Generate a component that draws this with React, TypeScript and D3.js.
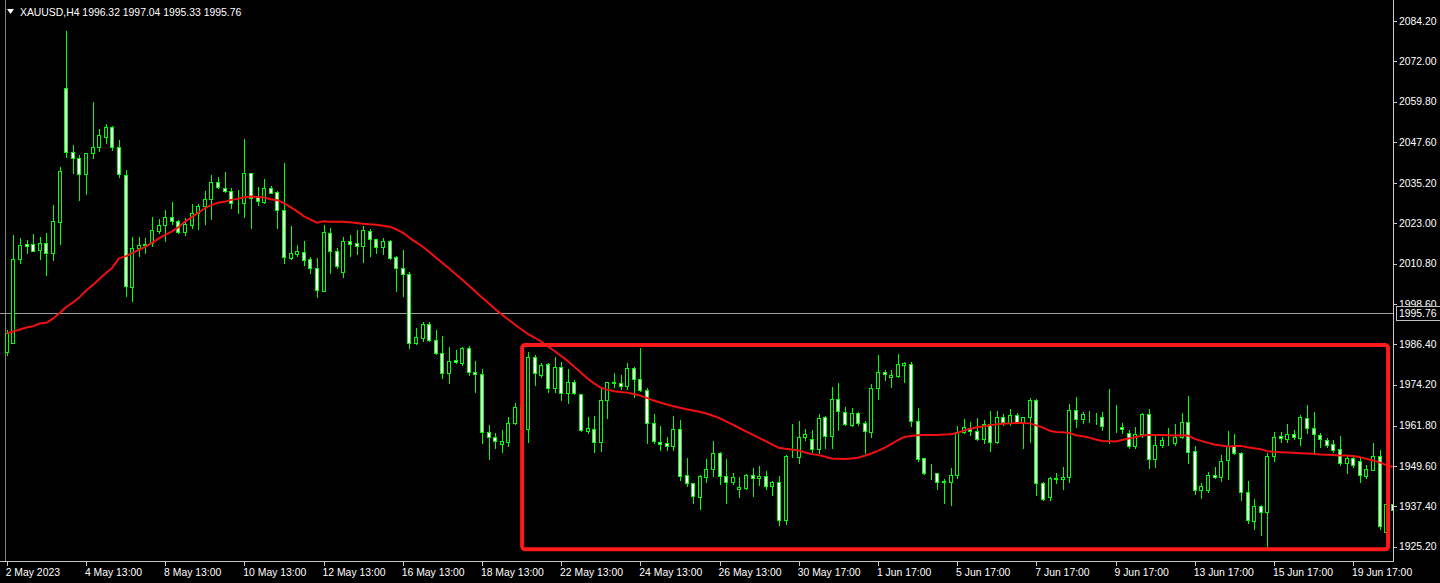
import React from "react";
import * as d3 from "d3";

// ---------- DATA ----------
const symbolTitle = "XAUUSD,H4";
const headerValues = ["1996.32", "1997.04", "1995.33", "1995.76"];
const bidPrice = 1995.76;

const opens = [
  1984.1, 1986.9, 2012.3, 2016.9, 2016.7, 2014.9, 2017.1, 2013.9, 2023.5, 2064.0,
  2044.5, 2042.9, 2037.8, 2044.2, 2046.2, 2049.2, 2052.1, 2046.0, 2037.6, 2003.8,
  2015.5, 2016.6, 2017.0, 2020.7, 2022.5, 2024.8, 2023.8, 2020.5, 2022.6, 2026.2,
  2028.2, 2030.3, 2035.6, 2033.8, 2032.8, 2029.1, 2029.1, 2038.1, 2030.9, 2029.6,
  2033.6, 2032.4, 2027.0, 2012.6, 2013.7, 2014.2, 2012.1, 2009.6, 2002.6, 2020.0,
  2014.6, 2008.4, 2017.7, 2017.0, 2016.2, 2020.8, 2018.2, 2015.8, 2017.7, 2012.9,
  2009.6, 2007.7, 1986.7, 1988.2, 1992.7, 1987.7, 1983.9, 1977.6, 1981.7, 1980.7,
  1985.2, 1978.1, 1977.4, 1959.8, 1958.5, 1956.2, 1957.0, 1962.5, 1967.5, 1960.8,
  1982.7, 1977.2, 1980.4, 1973.1, 1979.6, 1971.6, 1974.9, 1971.3, 1960.3, 1960.8,
  1957.0, 1969.6, 1974.8, 1974.6, 1973.8, 1979.3, 1975.8, 1972.6, 1962.5, 1957.0,
  1956.5, 1955.7, 1960.8, 1946.9, 1944.4, 1940.1, 1946.4, 1948.6, 1953.4, 1946.7,
  1944.8, 1942.6, 1943.0, 1946.9, 1945.9, 1946.6, 1943.6, 1944.8, 1933.3, 1952.6,
  1952.4, 1958.5, 1957.7, 1954.9, 1964.5, 1958.7, 1969.9, 1966.0, 1962.0, 1965.5,
  1962.5, 1960.0, 1973.1, 1978.1, 1976.4, 1976.9, 1980.2, 1980.4, 1963.3, 1951.9,
  1947.4, 1947.4, 1944.8, 1944.8, 1946.9, 1960.0, 1961.0, 1960.3, 1957.8, 1962.2,
  1957.0, 1964.3, 1962.7, 1965.0, 1963.0, 1964.3, 1969.6, 1944.4, 1940.1, 1945.8,
  1945.8, 1946.4, 1966.5, 1963.7, 1964.1, 1964.6, 1964.5, 1961.7, 1961.6, 1961.5,
  1959.5, 1955.7, 1959.2, 1965.2, 1951.7, 1955.9, 1956.9, 1956.6, 1958.3, 1963.0,
  1954.1, 1942.5, 1942.5, 1946.9, 1946.2, 1951.4, 1955.7, 1953.4, 1941.8, 1933.1,
  1937.6, 1935.6, 1952.6, 1958.7, 1957.7, 1959.3, 1958.0, 1964.0, 1961.0, 1959.0,
  1957.5, 1956.2, 1954.6, 1950.4, 1951.9, 1951.1, 1946.6, 1948.4, 1952.6, 1929.7,
  1938.0,
];

const highs = [
  1990.7, 2019.5, 2018.6, 2018.0, 2019.7, 2018.8, 2020.2, 2028.5, 2040.1, 2081.2,
  2046.7, 2043.7, 2044.4, 2059.7, 2051.4, 2053.1, 2052.3, 2048.2, 2039.1, 2018.8,
  2018.8, 2018.5, 2024.8, 2024.3, 2027.0, 2029.4, 2023.9, 2024.7, 2028.8, 2028.8,
  2032.9, 2037.6, 2037.1, 2038.4, 2033.6, 2033.1, 2048.4, 2038.3, 2034.1, 2036.3,
  2034.3, 2032.8, 2041.3, 2022.2, 2016.4, 2017.7, 2012.9, 2012.6, 2022.5, 2021.7,
  2015.5, 2018.8, 2019.5, 2021.0, 2022.2, 2021.3, 2018.4, 2018.5, 2018.0, 2013.1,
  2014.9, 2008.4, 1991.2, 1993.2, 1993.2, 1990.7, 1988.9, 1985.5, 1984.7, 1985.5,
  1985.9, 1981.4, 1978.9, 1962.0, 1959.5, 1960.5, 1964.3, 1968.7, 1968.1, 1984.2,
  1983.2, 1980.7, 1980.7, 1982.7, 1981.2, 1978.9, 1975.6, 1971.4, 1964.5, 1964.7,
  1973.4, 1975.1, 1977.6, 1977.1, 1980.7, 1979.6, 1985.2, 1973.1, 1965.3, 1961.7,
  1958.5, 1964.7, 1963.5, 1952.0, 1944.5, 1946.9, 1951.7, 1957.2, 1953.9, 1951.7,
  1947.4, 1946.2, 1947.1, 1948.9, 1949.6, 1948.2, 1945.0, 1946.6, 1953.0, 1962.2,
  1963.3, 1960.7, 1960.5, 1965.2, 1964.7, 1973.6, 1974.6, 1967.5, 1967.2, 1966.0,
  1963.2, 1974.3, 1983.2, 1978.6, 1978.6, 1983.4, 1981.2, 1981.0, 1967.2, 1952.0,
  1950.2, 1947.5, 1945.6, 1948.9, 1961.8, 1963.7, 1963.0, 1964.2, 1963.5, 1966.3,
  1966.3, 1965.2, 1966.7, 1965.5, 1964.5, 1970.1, 1969.8, 1944.8, 1946.4, 1947.6,
  1949.2, 1968.3, 1970.4, 1965.9, 1966.3, 1965.5, 1966.0, 1972.8, 1968.1, 1962.5,
  1960.5, 1961.3, 1965.5, 1966.8, 1958.7, 1958.5, 1961.0, 1962.3, 1965.5, 1970.9,
  1955.6, 1944.4, 1947.9, 1949.4, 1952.9, 1960.2, 1959.2, 1953.9, 1945.2, 1939.5,
  1937.8, 1953.4, 1960.0, 1960.0, 1962.3, 1960.5, 1965.0, 1968.1, 1966.0, 1959.5,
  1958.0, 1957.5, 1958.7, 1952.9, 1952.9, 1952.4, 1949.9, 1956.6, 1954.4, 1938.2,
  1938.3,
];

const lows = [
  1983.2, 1986.8, 2011.1, 2014.0, 2014.5, 2012.3, 2007.3, 2011.9, 2016.7, 2043.2,
  2038.3, 2030.1, 2031.9, 2042.7, 2045.0, 2047.4, 2045.2, 2037.1, 2001.0, 1999.5,
  2013.1, 2013.9, 2016.2, 2020.0, 2017.8, 2022.8, 2020.0, 2019.5, 2021.7, 2021.3,
  2022.7, 2024.2, 2033.6, 2032.6, 2027.7, 2026.2, 2025.0, 2021.5, 2028.6, 2029.2,
  2032.1, 2021.5, 2010.9, 2012.1, 2013.1, 2010.4, 2008.1, 2000.8, 2002.5, 2008.1,
  2009.6, 2006.9, 2013.1, 2013.7, 2011.4, 2013.2, 2014.1, 2013.7, 2012.1, 2002.5,
  2001.0, 1985.2, 1986.5, 1987.5, 1987.5, 1983.5, 1976.3, 1974.8, 1980.9, 1980.2,
  1977.1, 1972.1, 1956.5, 1951.7, 1955.1, 1953.7, 1955.7, 1962.2, 1960.5, 1957.0,
  1974.1, 1976.6, 1972.1, 1972.1, 1969.6, 1968.7, 1971.3, 1960.3, 1959.5, 1953.9,
  1954.2, 1964.2, 1973.6, 1972.8, 1972.8, 1970.6, 1972.4, 1956.5, 1956.5, 1954.4,
  1954.4, 1954.4, 1945.4, 1943.5, 1938.5, 1936.6, 1944.8, 1946.7, 1944.1, 1938.5,
  1944.2, 1940.1, 1942.8, 1940.5, 1943.8, 1942.6, 1940.8, 1931.8, 1932.1, 1952.2,
  1950.6, 1957.5, 1953.9, 1953.4, 1955.0, 1955.0, 1960.5, 1962.1, 1961.7, 1962.0,
  1953.4, 1958.5, 1969.8, 1975.6, 1973.6, 1976.6, 1974.9, 1961.8, 1951.1, 1947.1,
  1945.6, 1942.8, 1938.3, 1937.8, 1945.9, 1959.5, 1959.0, 1957.6, 1956.5, 1954.2,
  1956.5, 1962.0, 1962.0, 1962.5, 1955.0, 1957.0, 1940.8, 1939.3, 1939.3, 1944.4,
  1942.6, 1944.8, 1961.5, 1962.7, 1963.0, 1962.3, 1960.5, 1956.5, 1960.0, 1959.7,
  1955.1, 1955.0, 1958.5, 1949.1, 1949.2, 1955.4, 1955.9, 1955.9, 1958.0, 1950.6,
  1941.0, 1939.8, 1941.8, 1945.9, 1945.2, 1945.6, 1953.2, 1939.3, 1932.4, 1930.7,
  1928.7, 1924.7, 1951.2, 1957.0, 1957.0, 1957.7, 1955.9, 1959.5, 1953.2, 1955.3,
  1955.4, 1953.9, 1949.9, 1947.4, 1949.4, 1944.8, 1945.9, 1948.3, 1930.7, 1929.2,
  1935.3,
];

const closes = [
  1989.8, 2012.3, 2016.4, 2016.0, 2014.7, 2017.1, 2013.9, 2023.6, 2038.8, 2044.5,
  2042.7, 2037.8, 2044.2, 2046.2, 2049.7, 2052.1, 2046.0, 2037.8, 2004.1, 2015.5,
  2016.4, 2016.7, 2021.0, 2022.6, 2024.8, 2023.8, 2020.5, 2022.8, 2026.0, 2028.3,
  2030.4, 2035.6, 2033.9, 2032.8, 2029.1, 2029.2, 2038.1, 2030.8, 2029.8, 2033.6,
  2032.3, 2027.0, 2012.7, 2013.9, 2014.5, 2011.9, 2009.6, 2002.8, 2020.3, 2014.6,
  2010.2, 2017.7, 2016.7, 2016.2, 2021.0, 2018.2, 2015.8, 2017.7, 2012.6, 2009.6,
  2007.6, 1986.7, 1988.5, 1992.7, 1987.7, 1983.7, 1977.6, 1981.4, 1981.1, 1985.2,
  1978.1, 1977.4, 1959.8, 1958.3, 1957.2, 1957.2, 1962.5, 1967.5, 1960.8, 1982.7,
  1977.6, 1980.1, 1973.1, 1979.6, 1971.6, 1974.9, 1971.6, 1960.5, 1961.0, 1957.0,
  1969.6, 1974.9, 1974.9, 1973.8, 1979.3, 1975.8, 1972.6, 1962.5, 1957.2, 1956.3,
  1955.7, 1960.8, 1946.6, 1944.6, 1940.5, 1946.7, 1948.6, 1953.6, 1946.7, 1944.8,
  1946.2, 1943.3, 1946.9, 1945.9, 1946.7, 1943.6, 1944.8, 1933.3, 1952.7, 1952.7,
  1958.5, 1959.2, 1954.7, 1964.2, 1958.7, 1969.9, 1966.2, 1962.3, 1965.5, 1962.5,
  1960.2, 1973.1, 1978.0, 1977.3, 1977.1, 1980.5, 1980.7, 1963.3, 1951.7, 1947.6,
  1947.5, 1944.8, 1945.0, 1946.9, 1960.0, 1961.5, 1960.3, 1957.8, 1962.2, 1957.0,
  1964.3, 1963.0, 1964.9, 1963.0, 1964.3, 1969.6, 1944.4, 1939.6, 1945.9, 1946.0,
  1946.4, 1966.5, 1963.8, 1965.2, 1964.2, 1964.7, 1961.8, 1961.8, 1961.7, 1960.7,
  1955.7, 1959.2, 1965.2, 1951.7, 1955.9, 1957.5, 1957.0, 1958.3, 1963.0, 1953.9,
  1942.3, 1943.6, 1946.9, 1946.2, 1951.1, 1955.7, 1953.4, 1941.6, 1933.3, 1937.6,
  1935.6, 1952.7, 1958.5, 1958.0, 1959.3, 1958.3, 1964.5, 1961.0, 1959.2, 1957.8,
  1955.9, 1954.4, 1950.4, 1951.9, 1949.9, 1946.9, 1948.7, 1952.6, 1931.4, 1938.0,
  1936.3,
];

// moving average (red line) for every bar
const movingAverage = [
  1989.7, 1990.3, 1990.9, 1991.5, 1991.9, 1992.7, 1992.9, 1994.2, 1995.8, 1997.7,
  1999.0, 2000.6, 2002.6, 2004.3, 2006.1, 2007.9, 2009.6, 2012.4, 2013.0, 2014.0,
  2015.0, 2015.9, 2017.1, 2018.4, 2019.5, 2020.5, 2021.8, 2023.5, 2024.8, 2026.2,
  2027.5, 2028.5, 2029.2, 2029.5, 2030.1, 2030.4, 2030.9, 2031.1, 2031.0, 2030.8,
  2030.3, 2030.0, 2029.1, 2027.9, 2026.6, 2025.2, 2024.2, 2023.2, 2023.6, 2023.5,
  2023.5, 2023.5, 2023.3, 2023.1, 2022.9, 2022.7, 2022.6, 2022.3, 2022.0, 2021.2,
  2020.2, 2018.7, 2017.3, 2016.0, 2014.4, 2012.7, 2011.1, 2009.4, 2007.7, 2006.0,
  2004.2, 2002.4, 2000.6, 1998.9, 1997.1, 1995.4, 1993.9, 1992.4, 1990.9, 1989.5,
  1988.4, 1987.2, 1985.8, 1984.4, 1982.9, 1981.4, 1979.6, 1977.9, 1976.1, 1974.6,
  1973.3, 1972.7, 1972.2, 1972.0, 1971.8, 1971.4, 1970.9, 1970.2, 1969.4, 1968.8,
  1968.2, 1967.7, 1967.2, 1966.8, 1966.4, 1966.0, 1965.5, 1964.8, 1964.1, 1963.1,
  1962.1, 1961.1, 1960.1, 1959.1, 1958.1, 1957.1, 1956.1, 1955.1, 1954.8, 1954.6,
  1954.3, 1953.7, 1953.2, 1952.9, 1952.4, 1951.9, 1951.8, 1951.7, 1951.9, 1952.1,
  1952.7, 1953.4, 1954.2, 1955.1, 1956.2, 1957.4, 1958.4, 1958.7, 1958.9, 1959.0,
  1959.0, 1959.0, 1959.1, 1959.2, 1959.6, 1960.3, 1960.9, 1961.3, 1961.6, 1961.9,
  1962.2, 1962.4, 1962.5, 1962.6, 1962.6, 1962.5, 1961.9, 1961.2, 1960.3, 1959.9,
  1959.8, 1959.6, 1958.9, 1958.6, 1958.2, 1957.6, 1957.2, 1957.1, 1957.0, 1957.5,
  1957.9, 1958.3, 1958.8, 1959.0, 1959.0, 1959.0, 1958.9, 1958.8, 1958.9, 1958.8,
  1957.8, 1957.2, 1956.6, 1956.1, 1955.8, 1955.5, 1955.6, 1955.7, 1955.3, 1955.0,
  1954.7, 1954.1, 1953.9, 1953.8, 1953.7, 1953.6, 1953.5, 1953.4, 1953.3, 1953.1,
  1953.0, 1952.9, 1952.8, 1952.8, 1952.6, 1952.3, 1951.8, 1951.3, 1950.7, 1949.9,
  1949.3,
];

const priceTicks = [
  "2084.20", "2072.00", "2059.80", "2047.60", "2035.20", "2023.00", "2010.80",
  "1998.60", "1986.40", "1974.20", "1961.80", "1949.60", "1937.40", "1925.20",
];

const timeLabels = [
  "2 May 2023", "4 May 13:00", "8 May 13:00", "10 May 13:00", "12 May 13:00",
  "16 May 13:00", "18 May 13:00", "22 May 13:00", "24 May 13:00", "26 May 13:00",
  "30 May 17:00", "1 Jun 17:00", "5 Jun 17:00", "7 Jun 17:00", "9 Jun 17:00",
  "13 Jun 17:00", "15 Jun 17:00", "19 Jun 17:00",
];
const barsPerTimeLabel = 12;

// highlighted range rectangle (bar index from / to, price top / bottom)
const rangeBox = { fromBar: 78.1, toBar: 209.3, top: 1986.2, bottom: 1924.4 };

// ---------- CHART ----------
const W = 1440;
const H = 583;
const AXIS_X = 1393;
const AXIS_Y = 561;
const FONT = "'Liberation Sans', Arial, sans-serif";
const GREEN = "#00ff00";
const FG = "#ffffff";

export default function App() {
  const n = opens.length;
  const x = d3.scaleLinear().domain([0, n - 1]).range([6.7, 1392.7]);
  const y = d3.scaleLinear().domain([1925.2, 2084.2]).range([546.7, 21]);

  const maLine = d3
    .line<number>()
    .x((_, i) => x(i))
    .y((d) => y(d))
    .curve(d3.curveLinear)(movingAverage) as string;

  const bidY = Math.round(y(bidPrice)) + 0.5;

  return (
    <div style={{ position: "absolute", left: 0, top: 0, width: W, height: H, background: "#000" }}>
      <svg width={W} height={H} style={{ display: "block", background: "#000" }}>
        <defs>
          <clipPath id="plot">
            <rect x={0} y={0} width={AXIS_X} height={AXIS_Y} />
          </clipPath>
        </defs>
        <rect x={0} y={0} width={W} height={H} fill="#000" />

        <g clipPath="url(#plot)">
          {/* left border line */}
          <line x1={5.5} x2={5.5} y1={0} y2={AXIS_Y} stroke="#808080" strokeWidth={1} />
          {/* bid line */}
          <line x1={0} x2={AXIS_X} y1={bidY} y2={bidY} stroke="#a0a0a0" strokeWidth={1} />

          {/* candles */}
          <g shapeRendering="crispEdges">
            {opens.map((o, i) => {
              const c = closes[i];
              const cx = Math.round(x(i));
              const top = Math.round(y(Math.max(o, c)));
              const bot = Math.round(y(Math.min(o, c)));
              const bull = c >= o;
              return (
                <g key={i}>
                  <line
                    x1={cx + 0.5}
                    x2={cx + 0.5}
                    y1={Math.round(y(highs[i]))}
                    y2={Math.round(y(lows[i])) + 1}
                    stroke={GREEN}
                    strokeWidth={1}
                  />
                  <rect
                    x={cx - 1.5}
                    y={top + 0.5}
                    width={3}
                    height={Math.max(0, bot - top)}
                    fill={bull ? "#000000" : "#ffffff"}
                    stroke={GREEN}
                    strokeWidth={1}
                  />
                </g>
              );
            })}
          </g>

          {/* moving average */}
          <path d={maLine} fill="none" stroke="#f01010" strokeWidth={2} strokeLinejoin="round" />

          {/* highlighted range */}
          <rect
            x={x(rangeBox.fromBar)}
            y={y(rangeBox.top)}
            width={x(rangeBox.toBar) - x(rangeBox.fromBar)}
            height={y(rangeBox.bottom) - y(rangeBox.top)}
            rx={3}
            fill="none"
            stroke="#ff1a1a"
            strokeWidth={4}
          />
        </g>

        {/* axes */}
        <g shapeRendering="crispEdges">
          <line x1={AXIS_X + 0.5} x2={AXIS_X + 0.5} y1={0} y2={AXIS_Y + 1} stroke="#c8c8c8" />
          <line x1={0} x2={AXIS_X + 1} y1={AXIS_Y + 0.5} y2={AXIS_Y + 0.5} stroke="#c8c8c8" />
          {priceTicks.map((t) => {
            const ty = Math.round(y(+t)) + 0.5;
            return (
              <line key={t} x1={AXIS_X} x2={AXIS_X + 4} y1={ty} y2={ty} stroke="#c8c8c8" />
            );
          })}
          {timeLabels.map((t, k) => {
            const tx = Math.round(x(k * barsPerTimeLabel)) + 0.5;
            return (
              <line key={t} x1={tx} x2={tx} y1={AXIS_Y} y2={AXIS_Y + 5} stroke="#c8c8c8" />
            );
          })}
        </g>

        <g fontFamily={FONT} fontSize={10.4} fill={FG}>
          {priceTicks.map((t) => (
            <text key={t} x={AXIS_X + 6} y={y(+t)} dy="0.35em">
              {t}
            </text>
          ))}
          {timeLabels.map((t, k) => (
            <text key={t} x={x(k * barsPerTimeLabel) - 1} y={576}>
              {t}
            </text>
          ))}
        </g>

        {/* bid price label */}
        <g>
          <rect
            x={AXIS_X + 3}
            y={y(bidPrice) - 7}
            width={44}
            height={14}
            fill="#000"
            stroke="#c0c0c0"
            strokeWidth={1}
            shapeRendering="crispEdges"
          />
          <text
            x={AXIS_X + 6}
            y={y(bidPrice)}
            dy="0.35em"
            fontFamily={FONT}
            fontSize={10.4}
            fill={FG}
          >
            {bidPrice.toFixed(2)}
          </text>
        </g>

        {/* header */}
        <g fontFamily={FONT} fontSize={10.4} fill={FG}>
          <path d="M7,9 L14,9 L10.5,14 Z" fill={FG} />
          <text x={20} y={16}>
            {symbolTitle + "  " + headerValues.join(" ")}
          </text>
        </g>
      </svg>
    </div>
  );
}
